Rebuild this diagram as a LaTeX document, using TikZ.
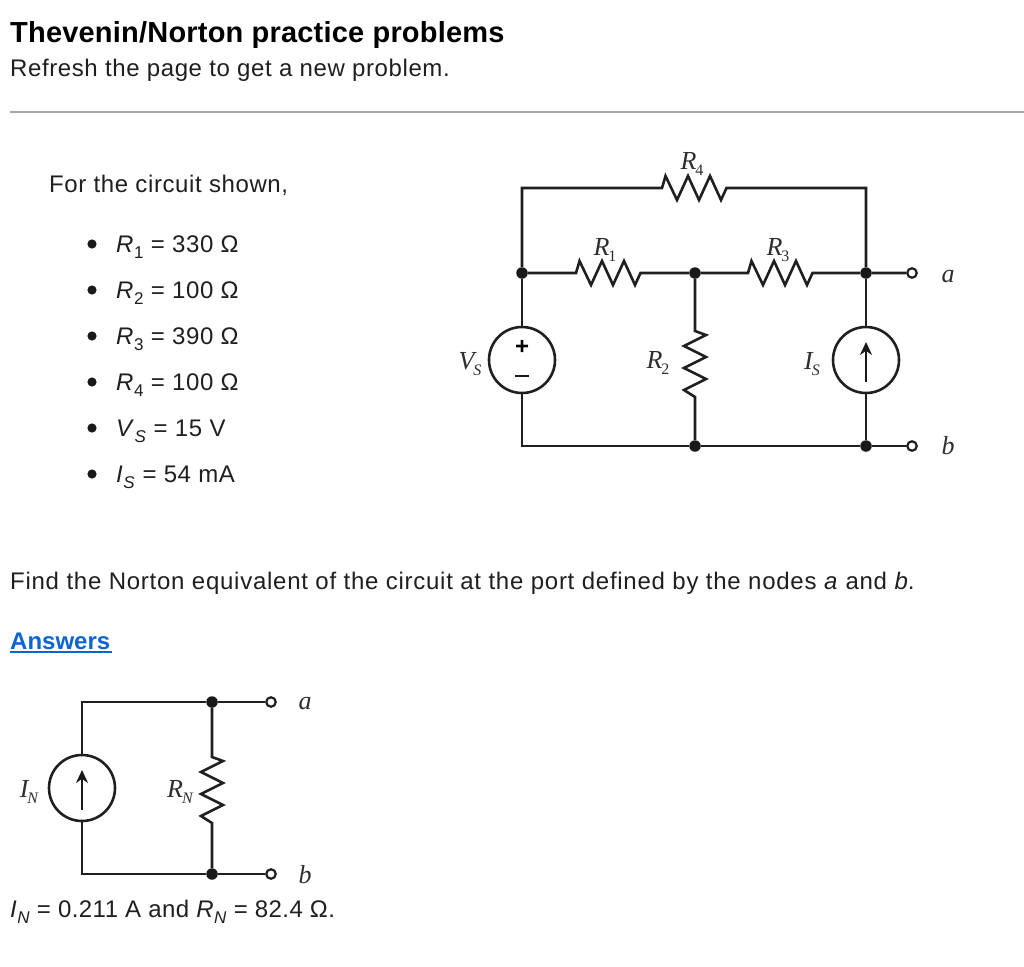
\documentclass[tikz,border=0pt]{standalone}
\usepackage{fontspec}
\setmainfont{Liberation Sans}[LetterSpace=2.5]
\newfontfamily\titlefont{Liberation Sans}[LetterSpace=0.7]
\newfontfamily\plainfont{Liberation Sans}
\newfontfamily\findfont{Liberation Sans}[LetterSpace=3.1]
\newfontfamily\resfont{Liberation Sans}[LetterSpace=1.8]
\newfontfamily\lblfont{Liberation Serif}
\usetikzlibrary{arrows.meta}
\definecolor{linkblue}{HTML}{0B66D0}
\newcommand{\hzig}{-- ++(3.5,-12) -- ++(11.5,24) -- ++(11,-24) -- ++(11,24) -- ++(11,-24) -- ++(11,24) -- ++(5.5,-12)}
\newcommand{\vzig}{-- ++(11,4) -- ++(-22,11) -- ++(22,11) -- ++(-22,11) -- ++(22,11) -- ++(-22,11) -- ++(11,7)}
\newcommand{\lowr}[1]{\raisebox{-0.28em}{\fontsize{17}{17}\selectfont #1}}
\newcommand{\clab}[2]{{\lblfont\itshape #1\kern-1pt\raisebox{-0.22em}{\fontsize{16}{16}\selectfont #2}}}
\newcommand{\clabn}[2]{{\lblfont\itshape #1\kern-1pt\raisebox{-0.22em}{\fontsize{16}{16}\selectfont\upshape #2}}}
\tikzset{
  wire/.style={line width=2.6pt,black!88,line join=miter},
  dot/.style={circle,fill=black!90,draw=none,minimum size=11.5pt,inner sep=0pt},
  term/.style={circle,draw=black!88,line width=2.2pt,fill=white,minimum size=9.5pt,inner sep=0pt},
  source/.style={circle,draw=black!88,line width=2.6pt,fill=white,minimum size=66pt,inner sep=0pt},
  txt/.style={anchor=base west,inner sep=0pt,font=\fontsize{24}{28}\selectfont,text=black!88},
  clabel/.style={inner sep=0pt,font=\fontsize{26}{28}\selectfont,text=black!82},
  curarrow/.style={line width=2.6pt,black!90,-{Stealth[length=13pt,width=12pt]}}
}
\begin{document}
\begin{tikzpicture}[x=1pt,y=-1pt]
\useasboundingbox (0,0) rectangle (1024,966);
\fill[white] (0,0) rectangle (1024,966);
% heading
\node[txt,font=\fontsize{29}{32}\selectfont\titlefont\bfseries,text=black] (title) at (10,43) {Thevenin/Norton practice problems};
\node[txt] (sub) at (10,77) {Refresh the page to get a new problem.};
\coordinate (hrA) at (10,112); \coordinate (hrB) at (1024,112);
\draw[black!35,line width=2pt] (hrA) -- (hrB);
% list
\node[txt] (intro) at (49,192) {For the circuit shown,};
\foreach \yy/\cc in {
  244/{\textit{R}\lowr{1} = 330 Ω},
  290/{\textit{R}\lowr{2} = 100 Ω},
  336/{\textit{R}\lowr{3} = 390 Ω},
  382/{\textit{R}\lowr{4} = 100 Ω},
  428/{\textit{V}\lowr{\textit{S}} = 15 V},
  474/{\textit{I}\lowr{\textit{S}} = 54 mA}}{
  \fill[black!90] (92,\yy) circle (4.6pt);
  \node[txt] at (116,\yy+8) {\cc};
}
\node[txt,font=\fontsize{24}{28}\selectfont\findfont] (find) at (10,589) {Find the Norton equivalent of the circuit at the port defined by the nodes \textit{a} and \textit{b}.};
\node[txt,font=\fontsize{24}{28}\selectfont\plainfont\bfseries,text=linkblue] (ans) at (10,649) {Answers};
\coordinate (ulA) at (10,652); \coordinate (ulB) at (112,652);
\draw[linkblue,line width=1.8pt] (ulA) -- (ulB);
\node[txt,font=\fontsize{24}{28}\selectfont\resfont] (result) at (10,917) {\textit{I}\lowr{\textit{N}} = 0.211 A and \textit{R}\lowr{\textit{N}} = 82.4 Ω.};
% main circuit
\coordinate (tl) at (522,188); \coordinate (tr) at (866,188);
\coordinate (bl) at (522,446);
\node[dot] (nA) at (522,273) {};
\node[dot] (nB) at (695,273) {};
\node[dot] (nC) at (866,273) {};
\node[dot] (nD) at (695,446) {};
\node[dot] (nE) at (866,446) {};
\node[term] (ta) at (912,273) {};
\node[term] (tb) at (912,446) {};
\node[source] (vs) at (522,360) {};
\node[source] (is) at (866,360) {};
\coordinate (r4a) at (662,188);
\coordinate (r1a) at (576,273);
\coordinate (r3a) at (748,273);
\coordinate (r2a) at (695,331);
\draw[wire] (nA) -- (tl) -- (r4a) \hzig -- (tr) -- (nC);
\draw[wire] (nA) -- (r1a) \hzig -- (nB) -- (r3a) \hzig -- (nC) -- (ta);
\draw[wire] (nB) -- (r2a) \vzig -- (nD);
\draw[wire] (nA) -- (vs); \draw[wire] (vs) -- (bl) -- (nD) -- (nE) -- (tb);
\draw[wire] (nC) -- (is); \draw[wire] (is) -- (nE);
\node[inner sep=0pt,font=\fontsize{24}{24}\selectfont\plainfont\bfseries] (plus) at (522,347) {+};
\coordinate (mA) at (515,376); \coordinate (mB) at (529,376);
\draw[black!90,line width=2.6pt] (mA) -- (mB);
\coordinate (arrS) at (866,382); \coordinate (arrE) at (866,342);
\draw[curarrow] (arrS) -- (arrE);
\node[clabel] (lR4) at (692,164) {\clabn{R}{4}};
\node[clabel] (lR1) at (605,250) {\clabn{R}{1}};
\node[clabel] (lR3) at (778,250) {\clabn{R}{3}};
\node[clabel] (lR2) at (658,363) {\clabn{R}{2}};
\node[clabel] (lVs) at (470,364) {\clab{V}{S}};
\node[clabel] (lIs) at (812,364) {\clab{I}{S}};
\node[clabel] (la) at (948,277) {\lblfont\itshape a};
\node[clabel] (lb) at (948,446) {\lblfont\itshape b};
% Norton circuit
\coordinate (ntl) at (82,702); \coordinate (nbl) at (82,874);
\node[dot] (mT) at (212,702) {};
\node[dot] (mB2) at (212,874) {};
\node[term] (tn1) at (271,702) {};
\node[term] (tn2) at (271,874) {};
\node[source] (in) at (82,788) {};
\coordinate (rna) at (212,757);
\draw[wire] (in) -- (ntl) -- (mT) -- (tn1);
\draw[wire] (in) -- (nbl) -- (mB2) -- (tn2);
\draw[wire] (mT) -- (rna) \vzig -- (mB2);
\coordinate (narS) at (82,810); \coordinate (narE) at (82,770);
\draw[curarrow] (narS) -- (narE);
\node[clabel] (lIn) at (29,792) {\clab{I}{N}};
\node[clabel] (lRn) at (180,792) {\clab{R}{N}};
\node[clabel] (la2) at (305,704) {\lblfont\itshape a};
\node[clabel] (lb2) at (305,875) {\lblfont\itshape b};
\end{tikzpicture}
\end{document}
